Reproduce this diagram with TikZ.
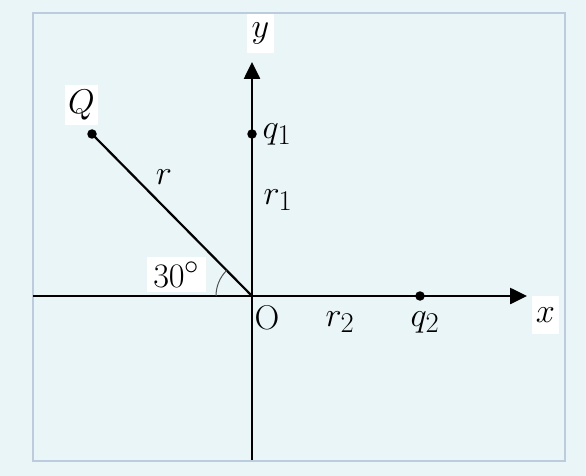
\documentclass[tikz,border=0pt]{standalone}
\usetikzlibrary{arrows.meta}
\definecolor{bgc}{HTML}{E9F5F7}
\definecolor{framec}{HTML}{BCCCDE}
\definecolor{arcc}{HTML}{555555}
\begin{document}
\begin{tikzpicture}[x=1pt,y=-1pt,
  lbl/.style={inner sep=0pt,font=\Huge,scale=1.38},
  wbox/.style={inner sep=0pt,fill=white},
  axis/.style={line width=2.6pt,-{Triangle[length=17pt,width=16pt]}},
  dotc/.style={circle,fill=black,inner sep=0pt,minimum size=9.5pt}]
\fill[bgc] (0,0) rectangle (586,476);
\useasboundingbox (0,0) rectangle (586,476);
\draw[framec,line width=2pt] (33,13) rectangle (565,461);
% coordinates
\coordinate (O) at (252,296);
\coordinate (xl) at (33,296);
\coordinate (xr) at (527,296);
\coordinate (yb) at (252,460);
\coordinate (yt) at (252,62);
% axes
\draw[axis] (xl) -- (xr);
\draw[axis] (yb) -- (yt);
% line OQ
\node[dotc] (Q) at (92,134) {};
\draw[line width=2.2pt] (O) -- (Q.center);
\node[dotc] (q1) at (252,134) {};
\node[dotc] (q2) at (420,296) {};
% angle arc
\draw[arcc,line width=1pt] (216,296) arc[start angle=180,end angle=225,radius=36];
% white boxes behind labels
\node[wbox,minimum width=27pt,minimum height=39pt] (ybox) at (260.5,33.5) {};
\node[wbox,minimum width=27pt,minimum height=38pt] (xbox) at (545.5,315) {};
\node[wbox,minimum width=33pt,minimum height=40pt] (Qbox) at (81.5,105) {};
\node[wbox,minimum width=59pt,minimum height=35pt] (angbox) at (176.5,274.5) {};
% labels
\node[lbl] (ylab) at (ybox) {$y$};
\node[lbl] (xlab) at (xbox) {$x$};
\node[lbl] (Qlab) at (Qbox) {$Q$};
\node[lbl] (anglab) at (angbox) {$30^\circ$};
\node[lbl] (q1lab) at (277,134) {$q_1$};
\node[lbl] (rlab) at (164,177) {$r$};
\node[lbl] (r1lab) at (278,200) {$r_1$};
\node[lbl] (Olab) at (267,318) {O};
\node[lbl] (r2lab) at (340,322) {$r_2$};
\node[lbl] (q2lab) at (425,322) {$q_2$};
\end{tikzpicture}
\end{document}
